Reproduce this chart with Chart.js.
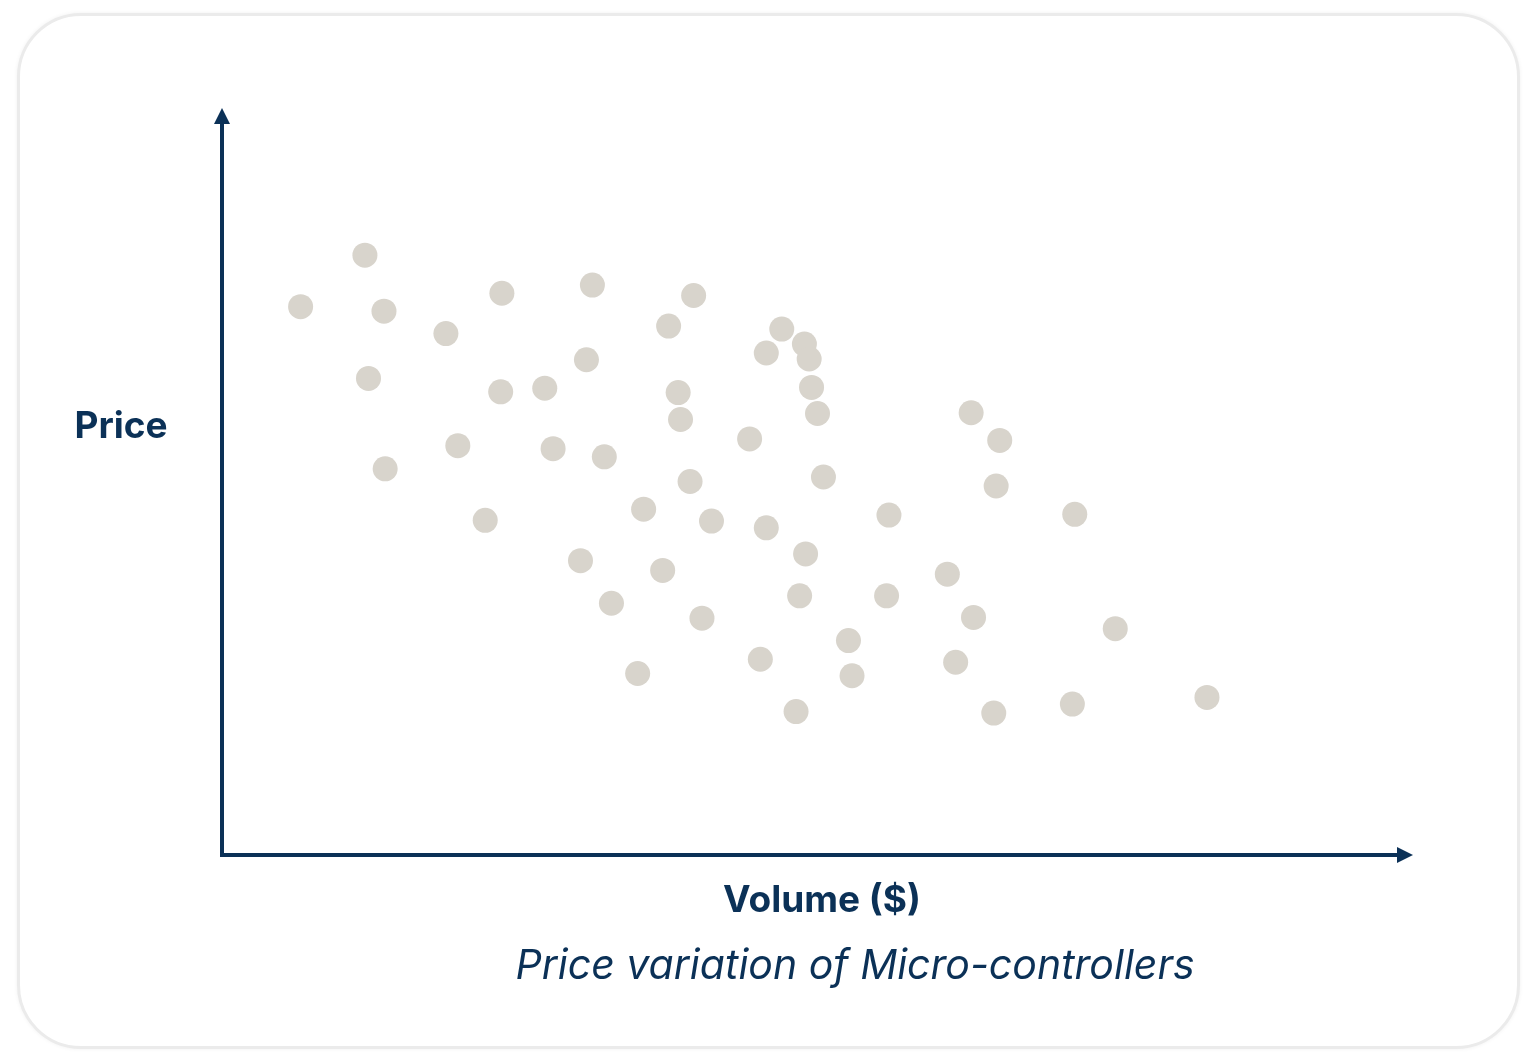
<!DOCTYPE html>
<html>
<head>
<meta charset="utf-8">
<script src="https://cdn.jsdelivr.net/npm/chart.js@4.4.1/dist/chart.umd.min.js"></script>
<style>
  html, body { margin: 0; padding: 0; background: #ffffff; width: 1536px; height: 1063px; overflow: hidden; }
  #card { position: absolute; left: 17px; top: 13px; width: 1497px; height: 1030px;
          border: 3px solid #ebebeb; border-radius: 64px; background: #fff;
          box-shadow: 0 0 4px rgba(0,0,0,0.06); }
  #wrap { position: absolute; left: 0; top: 0; width: 1536px; height: 1063px; }
</style>
</head>
<body>
<div id="card"></div>
<div id="wrap"><canvas id="c" width="1536" height="1063"></canvas></div>
<script>
// Volume (x) and Price (y) values, in relative units (0-100)
const volume = [6.6, 12.0, 13.6, 12.3, 13.7, 18.8, 19.8, 22.1, 23.5, 23.4, 27.1, 27.8, 31.1, 30.6, 32.1,
  30.1, 32.7, 34.9, 35.4, 37.0, 37.5, 39.6, 38.3, 38.5, 39.3, 41.1, 40.3, 44.3, 45.7, 47.0,
  48.9, 49.3, 49.5, 50.0, 50.5, 45.7, 49.0, 48.5, 45.2, 48.2, 52.6, 52.9, 56.0, 55.8, 62.9,
  65.3, 65.0, 60.9, 63.1, 61.6, 64.8, 71.6, 75.0, 71.4, 82.7];
const price = [73.4, 80.3, 72.8, 63.8, 51.7, 69.8, 54.8, 44.8, 75.2, 62.0, 62.5, 54.4, 76.3, 66.3, 53.3,
  39.4, 33.7, 24.3, 46.3, 38.1, 70.8, 74.9, 61.9, 58.3, 50.0, 44.7, 31.7, 55.7, 67.2, 70.4,
  68.4, 66.4, 62.6, 59.1, 50.6, 43.8, 40.3, 34.7, 26.2, 19.2, 28.7, 24.0, 45.5, 34.7, 59.2,
  55.5, 49.4, 37.6, 31.8, 25.8, 19.0, 45.6, 30.3, 20.2, 21.1];
const xTitle = 'Volume ($)';
const yTitle = 'Price';
const caption = 'Price variation of Micro-controllers';

const points = volume.map((v, i) => ({ x: v, y: price[i] }));
const NAVY = '#0b3157';

const axesPlugin = {
  id: 'arrowAxes',
  afterDraw(chart) {
    const ctx = chart.ctx;
    const a = chart.chartArea;
    ctx.save();
    ctx.strokeStyle = NAVY;
    ctx.fillStyle = NAVY;
    ctx.lineWidth = 4;
    ctx.lineCap = 'butt';
    // y axis
    ctx.beginPath();
    ctx.moveTo(a.left, a.bottom + 2);
    ctx.lineTo(a.left, a.top + 12);
    ctx.stroke();
    ctx.beginPath();
    ctx.moveTo(a.left, a.top);
    ctx.lineTo(a.left - 8, a.top + 16);
    ctx.lineTo(a.left + 8, a.top + 16);
    ctx.closePath();
    ctx.fill();
    // x axis
    ctx.beginPath();
    ctx.moveTo(a.left - 2, a.bottom);
    ctx.lineTo(a.right - 12, a.bottom);
    ctx.stroke();
    ctx.beginPath();
    ctx.moveTo(a.right, a.bottom);
    ctx.lineTo(a.right - 16, a.bottom - 8);
    ctx.lineTo(a.right - 16, a.bottom + 8);
    ctx.closePath();
    ctx.fill();
    // titles
    ctx.textAlign = 'center';
    ctx.textBaseline = 'middle';
    ctx.font = 'bold 37px Inter, "Open Sans", sans-serif';
    ctx.fillText(yTitle, 121, 427);
    ctx.fillText(xTitle, 822, 901);
    ctx.font = 'italic 400 41px Inter, "Open Sans", sans-serif';
    ctx.fillText(caption, 855, 967);
    ctx.restore();
  }
};

new Chart(document.getElementById('c'), {
  type: 'scatter',
  data: {
    datasets: [{
      data: points,
      backgroundColor: '#d8d4cc',
      borderWidth: 0,
      pointRadius: 12.5,
      pointHoverRadius: 12.5
    }]
  },
  options: {
    responsive: false,
    animation: false,
    devicePixelRatio: 1,
    layout: { padding: { left: 222, right: 123, top: 108, bottom: 208 } },
    plugins: { legend: { display: false }, tooltip: { enabled: false } },
    events: [],
    scales: {
      x: { type: 'linear', min: 0, max: 100, display: false },
      y: { type: 'linear', min: 0, max: 100, display: false }
    }
  },
  plugins: [axesPlugin]
});
</script>
</body>
</html>
